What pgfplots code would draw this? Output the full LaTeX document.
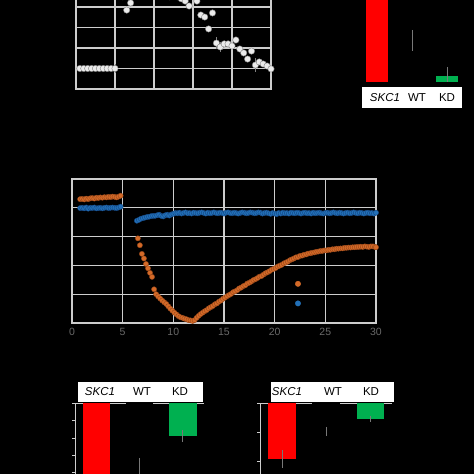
\documentclass[border=0pt]{standalone}
\usepackage{pgfplots}
\pgfplotsset{compat=1.18}
\usepackage{pgfplotstable}
\usepackage{fontspec}
\setmainfont{Liberation Sans}
\definecolor{gridc}{RGB}{205,205,205}
\definecolor{orng}{RGB}{212,106,40}
\definecolor{orngd}{RGB}{150,70,25}
\definecolor{blu}{RGB}{34,112,184}
\definecolor{blud}{RGB}{20,70,130}
\definecolor{barred}{RGB}{255,0,0}
\definecolor{bargreen}{RGB}{0,176,80}
\definecolor{errc}{RGB}{120,120,120}
\definecolor{tickc}{RGB}{105,105,105}
\definecolor{ptfill}{RGB}{235,235,235}

% Panel A data
\pgfplotstableread{
x y e
1 1.00 0
2 1.00 0
3 1.00 0
4 1.00 0
5 1.00 0
6 1.00 0
7 1.00 0
8 1.00 0
9 1.00 0
10 1.00 0.2
11 4.6 0
12 4.5 0
13 3.85 0
14 4.20 0.15
15 4.6 0
16 4.7 0
17 4.8 0
18 4.7 0
19 4.6 0
20 4.7 0
21 4.8 0
22 4.6 0
23 4.7 0
24 4.5 0
25 4.6 0
26 4.5 0
27 4.4 0.15
28 4.29 0
29 4.05 0
30 4.5 0
31 4.29 0
32 3.61 0
33 3.51 0
34 2.93 0
35 3.71 0
36 2.24 0.3
37 2.05 0.25
38 2.20 0
39 2.20 0
40 2.10 0
41 2.39 0
42 1.95 0
43 1.76 0
44 1.46 0
45 1.85 0
46 1.17 0.35
47 1.32 0
48 1.22 0
49 1.12 0
50 0.98 0
}\tableA

% Panel C data
\pgfplotstableread{
x y
0.8 4.30
1.0 4.31
1.2 4.29
1.4 4.32
1.6 4.30
1.8 4.33
2.0 4.34
2.2 4.32
2.4 4.35
2.6 4.34
2.8 4.36
3.0 4.35
3.2 4.37
3.4 4.36
3.6 4.38
3.8 4.37
4.0 4.39
4.2 4.38
4.4 4.36
4.6 4.39
4.8 4.42
}\orangeA

\pgfplotstableread{
x y
6.5 2.94
6.7 2.70
6.9 2.40
7.1 2.24
7.3 2.05
7.5 1.90
7.7 1.74
7.9 1.60
8.1 1.17
8.3 1.00
8.5 0.92
8.7 0.85
8.9 0.78
9.1 0.72
9.3 0.66
9.5 0.58
9.7 0.50
9.9 0.43
10.1 0.36
10.3 0.30
10.5 0.24
10.7 0.20
10.9 0.18
11.1 0.15
11.3 0.13
11.5 0.10
11.7 0.09
11.9 0.07
12.1 0.10
12.3 0.18
12.5 0.25
12.7 0.31
12.9 0.36
13.1 0.41
13.3 0.45
13.5 0.51
13.7 0.55
13.9 0.59
14.1 0.65
14.3 0.68
14.5 0.74
14.7 0.78
14.9 0.84
15.1 0.88
15.3 0.93
15.5 0.97
15.7 1.01
15.9 1.07
16.1 1.10
16.3 1.14
16.5 1.20
16.7 1.23
16.9 1.28
17.1 1.31
17.3 1.37
17.5 1.40
17.7 1.44
17.9 1.49
18.1 1.52
18.3 1.56
18.5 1.61
18.7 1.63
18.9 1.68
19.1 1.73
19.3 1.76
19.5 1.80
19.7 1.85
19.9 1.88
20.1 1.91
20.3 1.96
20.5 1.99
20.7 2.02
20.9 2.07
21.1 2.10
21.3 2.13
21.5 2.18
21.7 2.21
21.9 2.24
22.1 2.28
22.3 2.29
22.5 2.33
22.7 2.34
22.9 2.37
23.1 2.38
23.3 2.41
23.5 2.42
23.7 2.44
23.9 2.45
24.1 2.47
24.3 2.48
24.5 2.50
24.7 2.50
24.9 2.52
25.1 2.52
25.3 2.54
25.5 2.54
25.7 2.56
25.9 2.56
26.1 2.58
26.3 2.58
26.5 2.59
26.7 2.59
26.9 2.61
27.1 2.61
27.3 2.62
27.5 2.62
27.7 2.63
27.9 2.63
28.1 2.64
28.3 2.64
28.5 2.65
28.7 2.64
28.9 2.66
29.1 2.65
29.3 2.64
29.5 2.66
29.7 2.66
29.9 2.64
30.0 2.63
}\orangeB

\pgfplotstableread{
x y
0.8 3.99
1.0 4.00
1.2 3.98
1.4 4.01
1.6 3.97
1.8 4.00
2.0 3.99
2.2 4.01
2.4 3.98
2.6 3.99
2.8 4.00
3.0 3.98
3.2 4.00
3.4 4.01
3.6 3.99
3.8 4.00
4.0 4.01
4.2 4.00
4.4 3.99
4.6 4.01
4.8 4.04
}\blueA

\pgfplotstableread{
x y
6.4 3.55
6.6 3.58
6.8 3.62
7.0 3.64
7.2 3.66
7.4 3.68
7.6 3.69
7.8 3.71
8.0 3.72
8.2 3.72
8.4 3.74
8.6 3.76
8.8 3.72
9.0 3.70
9.2 3.74
9.4 3.76
9.6 3.73
9.8 3.77
10.0 3.79
10.2 3.82
10.4 3.81
10.6 3.83
10.8 3.80
11.0 3.82
11.2 3.84
11.4 3.81
11.6 3.82
11.8 3.80
12.0 3.83
12.2 3.82
12.4 3.81
12.6 3.83
12.8 3.84
13.0 3.82
13.2 3.80
13.4 3.83
13.6 3.81
13.8 3.82
14.0 3.84
14.2 3.82
14.4 3.81
14.6 3.83
14.8 3.82
15.0 3.80
15.2 3.83
15.4 3.84
15.6 3.82
15.8 3.81
16.0 3.83
16.2 3.82
16.4 3.80
16.6 3.82
16.8 3.84
17.0 3.83
17.2 3.81
17.4 3.82
17.6 3.84
17.8 3.83
18.0 3.81
18.2 3.82
18.4 3.84
18.6 3.83
18.8 3.80
19.0 3.82
19.2 3.83
19.4 3.81
19.6 3.79
19.8 3.82
20.0 3.80
20.2 3.78
20.4 3.82
20.6 3.80
20.8 3.83
21.0 3.81
21.2 3.82
21.4 3.80
21.6 3.83
21.8 3.82
22.0 3.81
22.2 3.83
22.4 3.82
22.6 3.80
22.8 3.82
23.0 3.83
23.2 3.81
23.4 3.82
23.6 3.80
23.8 3.83
24.0 3.81
24.2 3.82
24.4 3.83
24.6 3.81
24.8 3.80
25.0 3.82
25.2 3.83
25.4 3.81
25.6 3.82
25.8 3.84
26.0 3.82
26.2 3.81
26.4 3.83
26.6 3.82
26.8 3.80
27.0 3.82
27.2 3.83
27.4 3.81
27.6 3.82
27.8 3.84
28.0 3.82
28.2 3.81
28.4 3.83
28.6 3.82
28.8 3.80
29.0 3.82
29.2 3.83
29.4 3.81
29.6 3.82
29.8 3.80
30.0 3.83
}\blueB

\begin{document}
\begin{tikzpicture}
\useasboundingbox (0,0) rectangle (474pt,474pt);
\fill[black] (0,0) rectangle (474pt,474pt);
\clip (0,0) rectangle (474pt,474pt);

% ---------- Panel A ----------
\begin{axis}[at={(76pt,385pt)}, anchor=south west, scale only axis,
  width=195pt, height=102.5pt,
  xmin=0, xmax=50, ymin=0, ymax=5,
  xtick={0,10,...,50}, ytick={0,1,...,5},
  xticklabels={}, yticklabels={},
  grid=major, major grid style={gridc, line width=1.3pt},
  axis line style={gridc, line width=1.3pt},
  major tick length=0pt, clip=false]
\addplot[only marks, mark=*, mark size=3.2pt,
  mark options={fill=ptfill, draw=gray, line width=0.4pt},
  error bars/.cd, y dir=both, y explicit,
  error bar style={gray, line width=0.6pt}, error mark=none]
  table[x=x, y=y, y error=e] {\tableA};
\end{axis}

% ---------- Panel B ----------
\begin{axis}[at={(359.5pt,392pt)}, anchor=south west, scale only axis,
  width=105pt, height=100pt,
  xmin=-0.5, xmax=2.5, ymin=0, ymax=100,
  axis lines=none, ybar, bar width=22pt, clip=true]
\addplot[ybar, bar shift=0pt, bar width=22pt, fill=barred, draw=none] coordinates {(0,95)};
\addplot[ybar, bar shift=0pt, bar width=22pt, fill=black, draw=none,
  error bars/.cd, y dir=both, y explicit, error bar style={errc, line width=0.8pt}, error mark=none]
  coordinates {(1,41.5) +- (0,10.5)};
\addplot[ybar, bar shift=0pt, bar width=22pt, fill=bargreen, draw=none,
  error bars/.cd, y dir=both, y explicit, error bar style={errc, line width=0.8pt}, error mark=none]
  coordinates {(2,6) +- (0,9)};
\end{axis}

% ---------- Panel C ----------
\begin{axis}[at={(72pt,151pt)}, anchor=south west, scale only axis,
  width=304pt, height=144pt,
  xmin=0, xmax=30, ymin=0, ymax=5,
  xtick={0,5,...,30}, ytick={0,1,...,5}, yticklabels={},
  grid=major, major grid style={gridc, line width=1.3pt},
  axis line style={gridc, line width=1.3pt},
  major tick length=0pt,
  /pgf/number format/assume math mode=true,
  xticklabel style={text=tickc, font=\fontsize{10.5}{12}\selectfont, yshift=-2pt},
  clip=false]
\addplot[only marks, mark=*, mark size=2.6pt, mark options={fill=orng, draw=orngd, line width=0.4pt}] table[x=x,y=y] {\orangeA};
\addplot[only marks, mark=*, mark size=2.6pt, mark options={fill=blu, draw=blud, line width=0.4pt}] table[x=x,y=y] {\blueA};
\addplot[only marks, mark=*, mark size=2.6pt, mark options={fill=blu, draw=blud, line width=0.4pt}] table[x=x,y=y] {\blueB};
\addplot[only marks, mark=*, mark size=2.6pt, mark options={fill=orng, draw=orngd, line width=0.4pt}] table[x=x,y=y] {\orangeB};
\addplot[only marks, mark=*, mark size=2.7pt, mark options={fill=orng, draw=orng}] coordinates {(22.3,1.36)};
\addplot[only marks, mark=*, mark size=2.7pt, mark options={fill=blu, draw=blu}] coordinates {(22.3,0.68)};
\end{axis}

% ---------- Panel D ----------
\begin{axis}[at={(75pt,-16pt)}, anchor=south west, scale only axis,
  width=129pt, height=87pt,
  xmin=-0.5, xmax=2.5, ymin=-5, ymax=0,
  axis x line*=top, axis y line*=left,
  xtick=\empty, ytick={-5,-4,...,0}, yticklabels={},
  tick align=outside, major tick length=3pt,
  every tick/.style={gridc, line width=0.6pt},
  axis line style={gridc, line width=0.8pt}, clip=true]
\addplot[ybar, bar shift=0pt, bar width=27pt, fill=barred, draw=none] coordinates {(0,-6)};
\addplot[ybar, bar shift=0pt, bar width=27pt, fill=black, draw=none,
  error bars/.cd, y dir=both, y explicit, error bar style={errc, line width=0.8pt}, error mark=none]
  coordinates {(1,-4.0) +- (0,0.85)};
\addplot[ybar, bar shift=0pt, bar width=28pt, fill=bargreen, draw=none,
  error bars/.cd, y dir=both, y explicit, error bar style={errc, line width=0.8pt}, error mark=none]
  coordinates {(2,-1.9) +- (0,0.35)};
\end{axis}

% ---------- Panel E ----------
\begin{axis}[at={(260pt,-4.4pt)}, anchor=south west, scale only axis,
  width=132pt, height=75.4pt,
  xmin=-0.5, xmax=2.5, ymin=-2.6, ymax=0,
  axis x line*=top, axis y line*=left,
  xtick=\empty, ytick={-2,-1,0}, yticklabels={},
  tick align=outside, major tick length=3pt,
  every tick/.style={gridc, line width=0.6pt},
  axis line style={gridc, line width=0.8pt}, clip=true]
\addplot[ybar, bar shift=0pt, bar width=28pt, fill=barred, draw=none,
  error bars/.cd, y dir=both, y explicit, error bar style={errc, line width=0.8pt}, error mark=none]
  coordinates {(0,-1.93) +- (0,0.31)};
\addplot[ybar, bar shift=0pt, bar width=28pt, fill=black, draw=none,
  error bars/.cd, y dir=both, y explicit, error bar style={errc, line width=0.8pt}, error mark=none]
  coordinates {(1,-0.98) +- (0,0.155)};
\addplot[ybar, bar shift=0pt, bar width=27pt, fill=bargreen, draw=none,
  error bars/.cd, y dir=both, y explicit, error bar style={errc, line width=0.8pt}, error mark=none]
  coordinates {(2,-0.55) +- (0,0.1)};
\end{axis}

% ---------- label boxes ----------
\fill[white] (362pt,366pt) rectangle (462pt,387pt);
\node[font=\fontsize{11.5}{13}\selectfont\itshape] at (385pt,376.5pt) {SKC1};
\node[font=\fontsize{11.5}{13}\selectfont] at (417pt,376.5pt) {WT};
\node[font=\fontsize{11.5}{13}\selectfont] at (447pt,376.5pt) {KD};

\fill[white] (78pt,72pt) rectangle (203pt,92pt);
\node[font=\fontsize{11.5}{13}\selectfont\itshape] at (100pt,82pt) {SKC1};
\node[font=\fontsize{11.5}{13}\selectfont] at (142pt,82pt) {WT};
\node[font=\fontsize{11.5}{13}\selectfont] at (180pt,82pt) {KD};

\fill[white] (271pt,72pt) rectangle (394pt,92pt);
\node[font=\fontsize{11.5}{13}\selectfont\itshape] at (287pt,82pt) {SKC1};
\node[font=\fontsize{11.5}{13}\selectfont] at (333pt,82pt) {WT};
\node[font=\fontsize{11.5}{13}\selectfont] at (371pt,82pt) {KD};
\end{tikzpicture}
\end{document}
